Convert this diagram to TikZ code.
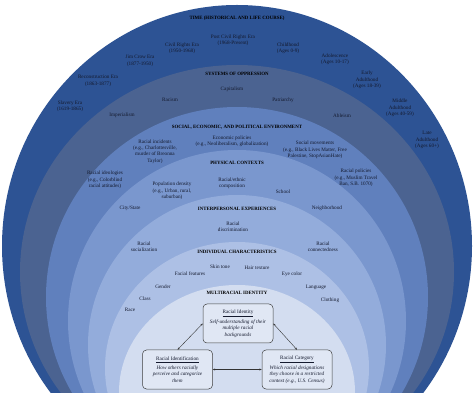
\documentclass[tikz,border=0pt]{standalone}
\usepackage{fontspec}
\setmainfont{Liberation Serif}
\usetikzlibrary{arrows.meta}
\definecolor{r1}{HTML}{2D5394}
\definecolor{r2}{HTML}{4B6391}
\definecolor{r3}{HTML}{6080BD}
\definecolor{r4}{HTML}{7A97CE}
\definecolor{r5}{HTML}{93ACDB}
\definecolor{r6}{HTML}{ADC0E5}
\definecolor{r7}{HTML}{D3DDF0}
\definecolor{txt}{HTML}{141A2E}
\begin{document}
\begin{tikzpicture}[x=1pt,y=-1pt,
 lab/.style={font=\fontsize{5.2}{6.4}\selectfont, text=txt, align=center, inner sep=0pt},
 ttl/.style={font=\fontsize{4.9}{5.6}\selectfont\bfseries, text=black, inner sep=0pt},
 idbox/.style={draw=black!75, line width=0.5pt, rounded corners=4pt, fill=r7!70!white, minimum width=70pt, minimum height=39pt, align=center, inner sep=1pt, font=\fontsize{5.2}{6.3}\selectfont, text=txt},
 arr/.style={{Stealth[length=2.4pt,width=2pt]}-{Stealth[length=2.4pt,width=2pt]}, line width=0.4pt, draw=black!80}]
\useasboundingbox (0,0) rectangle (474,403);
\fill[white] (0,0) rectangle (474,403);
\begin{scope}
\clip (0,0) rectangle (474,392);
\fill[r1] (237,246) ellipse [x radius=235pt, y radius=241pt];
\fill[r2] (237,272) ellipse [x radius=217pt, y radius=207pt];
\fill[r3] (237,297) ellipse [x radius=191pt, y radius=190pt];
\fill[r4] (237,321) ellipse [x radius=169pt, y radius=171pt];
\fill[r5] (237,345) ellipse [x radius=149pt, y radius=150pt];
\fill[r6] (237,368) ellipse [x radius=132pt, y radius=126pt];
\fill[r7] (237,392) ellipse [x radius=118pt, y radius=107pt];
\end{scope}
% ring 1
\node[ttl] (t1) at (237,18) {TIME (HISTORICAL AND LIFE COURSE)};
\node[lab] (pcr) at (233,40) {Post Civil Rights Era\\(1968-Present)};
\node[lab] (cr) at (182,48) {Civil Rights Era\\(1950-1968)};
\node[lab] (jc) at (140,61) {Jim Crow Era\\(1877-1950)};
\node[lab] (rec) at (98,81) {Reconstruction Era\\(1863-1877)};
\node[lab] (sl) at (70,106) {Slavery Era\\(1619-1865)};
\node[lab] (ch) at (288,48) {Childhood\\(Ages 0-9)};
\node[lab] (ad) at (335,59) {Adolescence\\(Ages 10-17)};
\node[lab] (ea) at (367,80) {Early\\Adulthood\\(Ages 18-39)};
\node[lab] (ma) at (400,108) {Middle\\Adulthood\\(Ages 40-59)};
\node[lab] (la) at (427,140) {Late\\Adulthood\\(Ages 60+)};
% ring 2
\node[ttl] (t2) at (237,74) {SYSTEMS OF OPPRESSION};
\node[lab] (cap) at (232,89) {Capitalism};
\node[lab] (rac) at (170,100) {Racism};
\node[lab] (pat) at (283,100) {Patriarchy};
\node[lab] (imp) at (122,115) {Imperialism};
\node[lab] (abl) at (342,116) {Ableism};
% ring 3
\node[ttl] (t3) at (237,127) {SOCIAL, ECONOMIC, AND POLITICAL ENVIRONMENT};
\node[lab] (eco) at (232,141.5) {Economic policies\\(e.g., Neoliberalism, globalization)};
\node[lab] (inc) at (155,151.5) {Racial incidents\\(e.g., Charlottesville,\\murder of Breonna\\Taylor)};
\node[lab] (soc) at (315,150) {Social movements\\(e.g., Black Lives Matter, Free\\Palestine, StopAsianHate)};
\node[lab] (ide) at (105,180) {Racial ideologies\\(e.g., Colorblind\\racial attitudes)};
\node[lab] (pol) at (356,178) {Racial policies\\(e.g., Muslim Travel\\Ban, S.B. 1070)};
% ring 4
\node[ttl] (t4) at (237,163) {PHYSICAL CONTEXTS};
\node[lab] (comp) at (232,183) {Racial/ethnic\\composition};
\node[lab] (pop) at (172,191) {Population density\\(e.g., Urban, rural,\\suburban)};
\node[lab] (sch) at (283,192) {School};
\node[lab] (city) at (130,208) {City/State};
\node[lab] (nbh) at (327,208) {Neighborhood};
% ring 5
\node[ttl] (t5) at (237,209) {INTERPERSONAL EXPERIENCES};
\node[lab] (disc) at (233,226.5) {Racial\\discrimination};
\node[lab] (socz) at (144,247) {Racial\\socialization};
\node[lab] (conn) at (323,247) {Racial\\connectedness};
% ring 6
\node[ttl] (t6) at (237,252) {INDIVIDUAL CHARACTERISTICS};
\node[lab] (skin) at (220,267) {Skin tone};
\node[lab] (hair) at (257,268) {Hair texture};
\node[lab] (face) at (190,274) {Facial features};
\node[lab] (eye) at (292,274) {Eye color};
\node[lab] (gen) at (163,287) {Gender};
\node[lab] (lang) at (316,287) {Language};
\node[lab] (cls) at (145,299) {Class};
\node[lab] (clo) at (330,300) {Clothing};
\node[lab] (race) at (130,310) {Race};
% ring 7
\node[ttl] (t7) at (237,293) {MULTIRACIAL IDENTITY};
\node[idbox] (idn) at (238,323.5) {\underline{Racial Identity}\\[2.5pt]\textit{Self-understanding of their}\\\textit{multiple racial}\\\textit{backgrounds}};
\node[idbox] (idf) at (177.5,369.5) {\underline{Racial Identification}\\[2.5pt]\textit{How others racially}\\\textit{perceive and categorize}\\\textit{them}};
\node[idbox] (cat) at (297,369.5) {\underline{Racial Category}\\[2.5pt]\textit{Which racial designations}\\\textit{they choose in a restricted}\\\textit{context (e.g., U.S. Census)}};
\draw[arr] (idn.west) -- (idf.north);
\draw[arr] (idn.east) -- (cat.north);
\draw[arr] (idf.east) -- (cat.west);
\end{tikzpicture}
\end{document}
